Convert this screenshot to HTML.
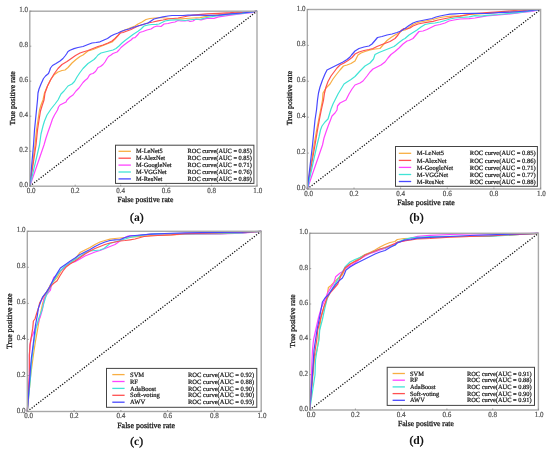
<!DOCTYPE html><html><head><meta charset="utf-8"><style>html,body{margin:0;padding:0;background:#fff}svg{display:block}</style></head><body>
<svg width="550" height="449" viewBox="0 0 550 449" font-family="'Liberation Serif','Times New Roman',serif" text-rendering="geometricPrecision">
<rect width="550" height="449" fill="#fff"/>
<g><polyline points="29.8,186.2 35.0,145.0 36.5,130.0 38.0,120.0 39.5,110.0 41.0,105.0 43.0,100.0 44.5,93.0 47.5,86.0 51.0,79.0 54.5,74.5 58.0,72.0 62.0,70.5 65.0,70.0 68.0,67.5 72.0,63.0 76.0,59.5 80.0,56.5 83.0,55.0 88.0,51.0 93.0,49.5 98.0,47.5 103.0,45.5 108.0,43.5 112.0,42.0 115.0,39.0 118.0,35.5 120.5,32.0 125.0,30.0 130.0,28.0 135.0,26.0 138.0,24.0 142.0,22.0 146.0,19.5 150.0,18.5 155.0,18.0 160.0,17.5 165.0,18.0 170.0,18.5 176.0,19.0 181.0,18.8 186.0,18.5 193.0,18.0 200.0,17.7 206.8,16.3 218.6,14.5 230.5,13.3 242.3,12.5 257.0,11.2" fill="none" stroke="#f8ae42" stroke-width="1.2" stroke-linejoin="round"/>
<polyline points="29.8,186.2 36.0,145.0 37.5,130.0 39.0,120.0 40.5,111.0 42.0,106.0 44.0,100.0 45.0,93.0 47.5,86.0 50.5,80.0 54.0,74.0 58.0,68.5 62.0,64.5 67.0,61.5 72.0,58.0 75.5,55.5 80.0,53.0 83.0,52.0 88.0,50.5 93.0,48.5 98.0,46.5 103.0,45.0 108.0,43.0 112.0,41.0 115.0,38.5 118.0,35.5 120.5,32.8 123.0,32.5 127.0,31.0 131.0,29.5 135.0,27.5 138.0,26.0 143.0,24.5 148.0,23.0 153.0,22.0 158.0,20.8 163.0,20.0 168.0,19.0 173.0,18.5 178.0,18.0 183.0,17.0 188.0,16.0 193.0,15.2 206.8,13.9 218.6,13.3 230.5,12.7 237.6,11.8 242.3,12.5 257.0,11.2" fill="none" stroke="#ff5050" stroke-width="1.2" stroke-linejoin="round"/>
<polyline points="29.8,186.2 44.0,145.0 46.0,138.0 48.0,132.0 50.5,125.0 52.5,119.0 54.5,115.0 57.5,110.0 58.5,107.0 60.0,105.0 63.0,103.5 66.0,102.0 67.0,100.0 70.0,97.0 73.0,95.0 76.0,91.0 79.0,88.0 83.0,82.5 85.0,80.5 87.5,78.5 89.5,75.0 91.0,74.0 93.0,73.5 95.5,71.5 98.0,67.5 100.5,66.5 103.0,64.5 105.0,62.0 107.0,58.5 108.5,56.5 111.0,54.9 113.0,53.5 117.0,52.0 119.0,50.0 121.0,47.5 124.0,45.0 128.0,42.0 131.0,40.0 133.0,38.0 135.0,37.6 138.0,34.5 139.5,32.5 143.0,31.5 147.0,30.0 151.0,29.0 154.0,27.0 157.0,26.0 161.0,26.5 164.0,24.0 168.0,23.5 172.0,22.5 175.0,22.0 178.0,20.5 181.0,21.0 185.0,21.0 188.0,20.5 190.0,21.5 193.0,21.0 196.0,19.0 201.0,19.8 206.8,18.4 214.0,18.4 218.6,16.9 230.5,15.1 242.3,13.7 251.7,12.7 257.0,11.2" fill="none" stroke="#ff44ff" stroke-width="1.2" stroke-linejoin="round"/>
<polyline points="29.8,186.2 39.5,145.0 41.0,134.0 43.0,126.0 44.5,121.0 47.0,115.0 51.0,109.0 55.0,104.0 58.0,100.0 61.0,94.0 64.0,91.0 68.0,86.0 72.0,84.0 74.5,81.5 77.0,77.0 80.0,72.5 83.0,68.5 85.0,66.5 88.0,63.5 91.0,61.5 94.0,59.5 96.0,57.5 98.0,55.0 101.0,53.0 105.0,52.0 109.0,51.0 113.0,50.0 116.0,48.5 119.0,46.0 122.0,43.0 125.0,40.5 129.0,37.5 133.0,34.5 138.0,31.3 141.0,29.0 144.0,26.0 148.0,25.0 152.0,24.5 156.0,24.3 159.0,24.0 162.0,22.5 165.0,21.0 170.0,20.2 176.0,19.8 180.0,20.0 185.0,20.5 188.0,20.0 193.0,19.5 197.0,19.3 201.0,19.2 206.8,17.5 218.6,15.7 230.5,14.5 242.3,13.3 257.0,11.2" fill="none" stroke="#40e4d6" stroke-width="1.2" stroke-linejoin="round"/>
<polyline points="29.8,186.2 33.5,145.0 34.5,130.0 35.5,120.0 36.5,110.0 37.5,100.0 38.0,93.0 39.0,89.0 41.0,84.0 43.5,78.5 45.5,76.0 48.5,73.5 49.5,71.0 50.5,68.0 52.5,65.5 56.0,63.5 60.0,61.0 63.0,58.5 65.0,56.0 66.5,54.0 68.0,51.5 70.0,50.2 74.0,48.6 78.0,47.5 83.0,46.5 88.0,44.5 92.0,43.0 96.0,42.5 100.0,41.8 104.0,40.0 107.5,38.5 111.0,36.0 114.0,34.5 118.0,33.0 121.0,31.5 125.0,30.0 129.0,29.0 133.0,27.5 138.0,26.0 143.0,24.5 148.0,23.0 151.0,21.0 154.0,19.0 158.0,18.0 163.0,16.8 168.0,16.0 172.0,15.5 178.0,15.5 183.0,15.5 188.0,15.2 193.0,15.0 200.0,15.1 206.8,15.3 218.6,15.1 230.5,13.9 242.3,13.0 257.0,11.2" fill="none" stroke="#4848ff" stroke-width="1.2" stroke-linejoin="round"/>
<line x1="29.8" y1="186.2" x2="257.0" y2="11.2" stroke="#111" stroke-width="1.3" stroke-dasharray="1.2 1.55"/>
<rect x="29.8" y="11.2" width="227.2" height="175.0" fill="none" stroke="#a8a8a8" stroke-width="1.4"/>
<line x1="29.8" y1="186.2" x2="29.8" y2="184.7" stroke="#888" stroke-width="0.8"/>
<line x1="29.8" y1="186.2" x2="31.3" y2="186.2" stroke="#888" stroke-width="0.8"/>
<text transform="translate(31.2 193.1) scale(1 1.1)" font-size="7.1" fill="#555" stroke="#555" stroke-width="0.2" text-anchor="middle">0.0</text>
<text transform="translate(28.1 187.2) scale(1 1.1)" font-size="7.1" fill="#555" stroke="#555" stroke-width="0.2" text-anchor="end">0.0</text>
<line x1="75.2" y1="186.2" x2="75.2" y2="184.7" stroke="#888" stroke-width="0.8"/>
<line x1="29.8" y1="151.2" x2="31.3" y2="151.2" stroke="#888" stroke-width="0.8"/>
<text transform="translate(75.2 193.1) scale(1 1.1)" font-size="7.1" fill="#555" stroke="#555" stroke-width="0.2" text-anchor="middle">0.2</text>
<text transform="translate(28.1 152.2) scale(1 1.1)" font-size="7.1" fill="#555" stroke="#555" stroke-width="0.2" text-anchor="end">0.2</text>
<line x1="120.7" y1="186.2" x2="120.7" y2="184.7" stroke="#888" stroke-width="0.8"/>
<line x1="29.8" y1="116.2" x2="31.3" y2="116.2" stroke="#888" stroke-width="0.8"/>
<text transform="translate(120.7 193.1) scale(1 1.1)" font-size="7.1" fill="#555" stroke="#555" stroke-width="0.2" text-anchor="middle">0.4</text>
<text transform="translate(28.1 117.2) scale(1 1.1)" font-size="7.1" fill="#555" stroke="#555" stroke-width="0.2" text-anchor="end">0.4</text>
<line x1="166.1" y1="186.2" x2="166.1" y2="184.7" stroke="#888" stroke-width="0.8"/>
<line x1="29.8" y1="81.2" x2="31.3" y2="81.2" stroke="#888" stroke-width="0.8"/>
<text transform="translate(166.1 193.1) scale(1 1.1)" font-size="7.1" fill="#555" stroke="#555" stroke-width="0.2" text-anchor="middle">0.6</text>
<text transform="translate(28.1 82.2) scale(1 1.1)" font-size="7.1" fill="#555" stroke="#555" stroke-width="0.2" text-anchor="end">0.6</text>
<line x1="211.6" y1="186.2" x2="211.6" y2="184.7" stroke="#888" stroke-width="0.8"/>
<line x1="29.8" y1="46.2" x2="31.3" y2="46.2" stroke="#888" stroke-width="0.8"/>
<text transform="translate(211.6 193.1) scale(1 1.1)" font-size="7.1" fill="#555" stroke="#555" stroke-width="0.2" text-anchor="middle">0.8</text>
<text transform="translate(28.1 47.2) scale(1 1.1)" font-size="7.1" fill="#555" stroke="#555" stroke-width="0.2" text-anchor="end">0.8</text>
<line x1="257.0" y1="186.2" x2="257.0" y2="184.7" stroke="#888" stroke-width="0.8"/>
<line x1="29.8" y1="11.2" x2="31.3" y2="11.2" stroke="#888" stroke-width="0.8"/>
<text transform="translate(257.8 193.1) scale(1 1.1)" font-size="7.1" fill="#555" stroke="#555" stroke-width="0.2" text-anchor="middle">1.0</text>
<text transform="translate(28.1 12.2) scale(1 1.1)" font-size="7.1" fill="#555" stroke="#555" stroke-width="0.2" text-anchor="end">1.0</text>
<rect x="115.5" y="145.2" width="138.4" height="38.2" fill="#fff" stroke="#444" stroke-width="1"/>
<line x1="118.5" y1="151.3" x2="130.9" y2="151.3" stroke="#f8ae42" stroke-width="1.3"/>
<text x="135.9" y="153.4" font-size="6.35" fill="#1a1a1a" stroke="#1a1a1a" stroke-width="0.22">M-LeNet5</text>
<text x="251.8" y="153.4" font-size="6.35" fill="#1a1a1a" stroke="#1a1a1a" stroke-width="0.22" text-anchor="end">ROC curve(AUC = 0.85)</text>
<line x1="118.5" y1="158.2" x2="130.9" y2="158.2" stroke="#ff5050" stroke-width="1.3"/>
<text x="135.9" y="160.3" font-size="6.35" fill="#1a1a1a" stroke="#1a1a1a" stroke-width="0.22">M-AlexNet</text>
<text x="251.8" y="160.3" font-size="6.35" fill="#1a1a1a" stroke="#1a1a1a" stroke-width="0.22" text-anchor="end">ROC curve(AUC = 0.85)</text>
<line x1="118.5" y1="165.1" x2="130.9" y2="165.1" stroke="#ff44ff" stroke-width="1.3"/>
<text x="135.9" y="167.2" font-size="6.35" fill="#1a1a1a" stroke="#1a1a1a" stroke-width="0.22">M-GoogleNet</text>
<text x="251.8" y="167.2" font-size="6.35" fill="#1a1a1a" stroke="#1a1a1a" stroke-width="0.22" text-anchor="end">ROC curve(AUC = 0.71)</text>
<line x1="118.5" y1="172.0" x2="130.9" y2="172.0" stroke="#40e4d6" stroke-width="1.3"/>
<text x="135.9" y="174.1" font-size="6.35" fill="#1a1a1a" stroke="#1a1a1a" stroke-width="0.22">M-VGGNet</text>
<text x="251.8" y="174.1" font-size="6.35" fill="#1a1a1a" stroke="#1a1a1a" stroke-width="0.22" text-anchor="end">ROC curve(AUC = 0.76)</text>
<line x1="118.5" y1="178.9" x2="130.9" y2="178.9" stroke="#4848ff" stroke-width="1.3"/>
<text x="135.9" y="181.0" font-size="6.35" fill="#1a1a1a" stroke="#1a1a1a" stroke-width="0.22">M-ResNet</text>
<text x="251.8" y="181.0" font-size="6.35" fill="#1a1a1a" stroke="#1a1a1a" stroke-width="0.22" text-anchor="end">ROC curve(AUC = 0.89)</text>
<text x="145.4" y="201.9" font-size="7.7" fill="#1a1a1a" stroke="#1a1a1a" stroke-width="0.3" text-anchor="middle">False positive rate</text>
<text transform="translate(15.1 98.3) rotate(-90)" x="0" y="0" font-size="7.7" fill="#1a1a1a" stroke="#1a1a1a" stroke-width="0.3" text-anchor="middle">True positive rate</text>
<text x="136.8" y="220.8" font-size="11.6" fill="#111" text-anchor="middle"><tspan stroke="#111" stroke-width="0.4">(</tspan><tspan font-weight="bold">a</tspan><tspan stroke="#111" stroke-width="0.4">)</tspan></text></g>
<g><polyline points="307.3,189.0 314.0,145.0 317.0,128.0 319.0,118.0 321.0,108.0 322.5,100.0 323.0,93.0 326.0,88.0 330.0,84.0 333.0,79.0 336.0,75.0 340.0,70.0 343.5,66.0 347.0,65.0 351.0,63.5 355.0,61.0 358.0,55.0 361.0,53.0 365.0,51.5 370.0,50.0 375.0,49.0 380.0,48.5 383.0,45.0 387.0,40.5 391.0,37.5 395.0,35.0 399.0,33.0 402.0,30.5 405.0,30.0 409.0,27.5 413.0,24.5 418.0,22.5 423.0,21.5 428.0,20.5 433.0,19.5 438.0,18.0 443.0,17.0 447.0,16.5 452.0,16.2 460.0,15.8 469.0,14.5 475.0,14.2 486.8,13.3 498.6,12.3 510.5,11.9 522.0,10.9 540.6,9.5" fill="none" stroke="#f8ae42" stroke-width="1.2" stroke-linejoin="round"/>
<polyline points="307.3,189.0 315.0,145.0 317.5,130.0 319.5,119.0 321.5,109.0 323.5,100.0 324.5,93.0 326.0,87.0 328.0,81.5 331.0,76.0 334.0,72.0 337.0,68.0 340.0,65.0 344.0,63.0 348.0,60.5 352.0,57.5 355.0,54.0 359.0,52.0 364.0,50.5 369.0,49.5 373.0,48.5 377.0,46.5 382.0,44.5 386.0,43.0 390.0,41.5 395.0,38.5 398.0,35.0 401.0,30.5 404.0,28.5 407.0,29.0 410.0,28.0 413.0,26.0 418.0,24.0 423.0,23.0 428.0,22.2 433.0,21.3 438.0,20.0 443.0,19.0 448.0,18.0 453.0,17.0 460.0,16.2 469.0,14.5 475.0,13.5 486.8,12.7 498.6,11.9 510.5,10.9 521.0,10.0 524.6,10.7 540.6,9.5" fill="none" stroke="#ff5050" stroke-width="1.2" stroke-linejoin="round"/>
<polyline points="307.3,189.0 322.5,145.0 324.0,138.0 326.0,132.0 328.5,125.0 330.5,120.0 332.0,116.0 335.0,113.0 337.0,110.0 337.5,106.0 340.0,103.0 343.0,101.5 346.0,100.0 349.0,94.0 352.0,89.0 355.0,85.0 360.0,83.0 363.0,81.0 367.0,76.0 370.0,72.0 373.0,69.0 377.0,67.0 381.0,65.0 385.0,62.0 388.0,58.0 391.0,54.5 395.0,51.5 399.0,48.0 403.0,44.0 407.0,41.0 409.0,40.5 413.0,38.5 416.0,35.0 419.0,31.5 423.0,31.0 427.0,29.5 431.0,27.5 435.0,25.5 440.0,24.5 445.0,23.0 449.0,21.0 454.0,20.0 460.0,19.0 469.0,18.6 475.0,18.0 481.0,16.8 486.8,15.9 498.6,15.0 510.5,13.9 522.0,12.3 531.7,11.5 540.6,9.5" fill="none" stroke="#ff44ff" stroke-width="1.2" stroke-linejoin="round"/>
<polyline points="307.3,189.0 317.0,145.0 319.0,137.0 320.5,130.0 322.0,126.0 325.0,122.0 328.0,119.0 329.5,114.0 331.0,109.0 333.0,104.0 335.0,100.0 338.0,94.0 341.0,89.0 344.0,84.0 347.0,82.0 351.0,79.5 355.0,76.5 360.0,71.0 365.0,66.0 370.0,63.0 373.5,59.0 375.0,54.5 379.0,52.5 384.0,50.5 389.0,48.5 394.0,46.5 396.0,45.0 399.0,42.5 403.0,39.5 405.0,38.5 409.0,35.0 413.0,32.5 417.0,30.0 421.0,27.0 425.0,24.5 430.0,23.5 435.0,23.0 440.0,22.0 445.0,20.5 450.0,19.0 455.0,18.0 460.0,17.5 469.0,16.8 475.0,15.6 481.0,16.2 486.8,15.4 498.6,14.5 510.5,13.3 522.0,12.1 540.6,9.5" fill="none" stroke="#40e4d6" stroke-width="1.2" stroke-linejoin="round"/>
<polyline points="307.3,189.0 312.5,145.0 314.0,130.0 315.0,120.0 316.5,110.0 317.5,100.0 318.5,93.0 320.0,87.0 322.5,80.0 325.0,74.0 327.0,70.0 331.0,68.0 335.0,66.0 339.0,64.0 343.0,62.0 347.0,59.5 350.0,57.0 351.5,55.0 355.0,51.0 359.0,48.5 364.0,47.0 369.0,46.0 372.0,44.0 375.0,40.5 377.5,37.5 382.0,36.5 387.0,35.0 392.0,34.0 397.0,32.5 401.0,31.0 405.0,28.5 409.0,25.5 413.0,23.0 417.0,21.5 422.0,20.5 427.0,19.5 432.0,18.5 436.0,17.0 440.0,16.0 445.0,15.0 450.0,14.2 455.0,13.8 460.0,13.5 475.0,13.3 486.8,13.5 498.6,12.7 510.5,12.1 520.0,11.5 528.0,10.9 540.6,9.5" fill="none" stroke="#4848ff" stroke-width="1.2" stroke-linejoin="round"/>
<line x1="307.3" y1="189.0" x2="540.6" y2="9.5" stroke="#111" stroke-width="1.3" stroke-dasharray="1.2 1.55"/>
<rect x="307.3" y="9.5" width="233.3" height="179.5" fill="none" stroke="#a8a8a8" stroke-width="1.4"/>
<line x1="307.3" y1="189.0" x2="307.3" y2="187.5" stroke="#888" stroke-width="0.8"/>
<line x1="307.3" y1="189.0" x2="308.8" y2="189.0" stroke="#888" stroke-width="0.8"/>
<text transform="translate(308.7 195.9) scale(1 1.1)" font-size="7.1" fill="#555" stroke="#555" stroke-width="0.2" text-anchor="middle">0.0</text>
<text transform="translate(305.6 190.0) scale(1 1.1)" font-size="7.1" fill="#555" stroke="#555" stroke-width="0.2" text-anchor="end">0.0</text>
<line x1="354.0" y1="189.0" x2="354.0" y2="187.5" stroke="#888" stroke-width="0.8"/>
<line x1="307.3" y1="153.1" x2="308.8" y2="153.1" stroke="#888" stroke-width="0.8"/>
<text transform="translate(354.0 195.9) scale(1 1.1)" font-size="7.1" fill="#555" stroke="#555" stroke-width="0.2" text-anchor="middle">0.2</text>
<text transform="translate(305.6 154.1) scale(1 1.1)" font-size="7.1" fill="#555" stroke="#555" stroke-width="0.2" text-anchor="end">0.2</text>
<line x1="400.6" y1="189.0" x2="400.6" y2="187.5" stroke="#888" stroke-width="0.8"/>
<line x1="307.3" y1="117.2" x2="308.8" y2="117.2" stroke="#888" stroke-width="0.8"/>
<text transform="translate(400.6 195.9) scale(1 1.1)" font-size="7.1" fill="#555" stroke="#555" stroke-width="0.2" text-anchor="middle">0.4</text>
<text transform="translate(305.6 118.2) scale(1 1.1)" font-size="7.1" fill="#555" stroke="#555" stroke-width="0.2" text-anchor="end">0.4</text>
<line x1="447.3" y1="189.0" x2="447.3" y2="187.5" stroke="#888" stroke-width="0.8"/>
<line x1="307.3" y1="81.3" x2="308.8" y2="81.3" stroke="#888" stroke-width="0.8"/>
<text transform="translate(447.3 195.9) scale(1 1.1)" font-size="7.1" fill="#555" stroke="#555" stroke-width="0.2" text-anchor="middle">0.6</text>
<text transform="translate(305.6 82.3) scale(1 1.1)" font-size="7.1" fill="#555" stroke="#555" stroke-width="0.2" text-anchor="end">0.6</text>
<line x1="493.9" y1="189.0" x2="493.9" y2="187.5" stroke="#888" stroke-width="0.8"/>
<line x1="307.3" y1="45.4" x2="308.8" y2="45.4" stroke="#888" stroke-width="0.8"/>
<text transform="translate(493.9 195.9) scale(1 1.1)" font-size="7.1" fill="#555" stroke="#555" stroke-width="0.2" text-anchor="middle">0.8</text>
<text transform="translate(305.6 46.4) scale(1 1.1)" font-size="7.1" fill="#555" stroke="#555" stroke-width="0.2" text-anchor="end">0.8</text>
<line x1="540.6" y1="189.0" x2="540.6" y2="187.5" stroke="#888" stroke-width="0.8"/>
<line x1="307.3" y1="9.5" x2="308.8" y2="9.5" stroke="#888" stroke-width="0.8"/>
<text transform="translate(541.4 195.9) scale(1 1.1)" font-size="7.1" fill="#555" stroke="#555" stroke-width="0.2" text-anchor="middle">1.0</text>
<text transform="translate(305.6 10.5) scale(1 1.1)" font-size="7.1" fill="#555" stroke="#555" stroke-width="0.2" text-anchor="end">1.0</text>
<rect x="395.5" y="146.5" width="141.9" height="39.8" fill="#fff" stroke="#444" stroke-width="1"/>
<line x1="398.8" y1="153.3" x2="411.2" y2="153.3" stroke="#f8ae42" stroke-width="1.3"/>
<text x="416.7" y="155.4" font-size="6.5" fill="#1a1a1a" stroke="#1a1a1a" stroke-width="0.22">M-LeNet5</text>
<text x="535.6" y="155.4" font-size="6.5" fill="#1a1a1a" stroke="#1a1a1a" stroke-width="0.22" text-anchor="end">ROC curve(AUC = 0.85)</text>
<line x1="398.8" y1="160.4" x2="411.2" y2="160.4" stroke="#ff5050" stroke-width="1.3"/>
<text x="416.7" y="162.5" font-size="6.5" fill="#1a1a1a" stroke="#1a1a1a" stroke-width="0.22">M-AlexNet</text>
<text x="535.6" y="162.5" font-size="6.5" fill="#1a1a1a" stroke="#1a1a1a" stroke-width="0.22" text-anchor="end">ROC curve(AUC = 0.86)</text>
<line x1="398.8" y1="167.4" x2="411.2" y2="167.4" stroke="#ff44ff" stroke-width="1.3"/>
<text x="416.7" y="169.5" font-size="6.5" fill="#1a1a1a" stroke="#1a1a1a" stroke-width="0.22">M-GoogleNet</text>
<text x="535.6" y="169.5" font-size="6.5" fill="#1a1a1a" stroke="#1a1a1a" stroke-width="0.22" text-anchor="end">ROC curve(AUC = 0.71)</text>
<line x1="398.8" y1="174.5" x2="411.2" y2="174.5" stroke="#40e4d6" stroke-width="1.3"/>
<text x="416.7" y="176.6" font-size="6.5" fill="#1a1a1a" stroke="#1a1a1a" stroke-width="0.22">M-VGGNet</text>
<text x="535.6" y="176.6" font-size="6.5" fill="#1a1a1a" stroke="#1a1a1a" stroke-width="0.22" text-anchor="end">ROC curve(AUC = 0.77)</text>
<line x1="398.8" y1="181.5" x2="411.2" y2="181.5" stroke="#4848ff" stroke-width="1.3"/>
<text x="416.7" y="183.6" font-size="6.5" fill="#1a1a1a" stroke="#1a1a1a" stroke-width="0.22">M-ResNet</text>
<text x="535.6" y="183.6" font-size="6.5" fill="#1a1a1a" stroke="#1a1a1a" stroke-width="0.22" text-anchor="end">ROC curve(AUC = 0.88)</text>
<text x="425.9" y="204.8" font-size="7.92" fill="#1a1a1a" stroke="#1a1a1a" stroke-width="0.3" text-anchor="middle">False positive rate</text>
<text transform="translate(292.3 98.1) rotate(-90)" x="0" y="0" font-size="7.75" fill="#1a1a1a" stroke="#1a1a1a" stroke-width="0.3" text-anchor="middle">True positive rate</text>
<text x="416.5" y="221.3" font-size="11.6" fill="#111" text-anchor="middle"><tspan stroke="#111" stroke-width="0.4">(</tspan><tspan font-weight="bold">b</tspan><tspan stroke="#111" stroke-width="0.4">)</tspan></text></g>
<g><polyline points="27.3,411.5 30.7,375.0 31.6,368.5 33.4,355.0 35.4,341.7 37.5,330.0 39.0,321.0 40.6,313.0 42.5,304.0 44.0,299.0 47.1,292.1 50.4,284.7 53.1,282.0 57.1,277.4 61.1,270.7 65.1,266.7 70.0,263.3 75.0,259.0 80.0,252.5 85.0,250.0 90.0,247.5 95.0,244.5 100.0,242.0 105.0,240.5 110.0,239.2 115.0,238.5 120.0,238.0 125.0,237.5 130.0,237.0 135.0,236.8 151.0,235.5 164.6,235.1 185.0,234.1 220.0,233.6 242.0,232.8 261.2,231.3" fill="none" stroke="#f8ae42" stroke-width="1.2" stroke-linejoin="round"/>
<polyline points="27.3,411.5 29.4,375.0 29.4,355.0 30.0,345.7 31.4,337.7 34.7,329.7 38.0,323.0 40.5,316.0 42.5,309.0 43.5,303.0 44.0,299.0 47.1,294.1 50.4,290.1 51.7,284.0 53.7,277.4 57.1,274.7 60.4,270.7 65.1,266.7 70.0,263.3 75.0,261.8 80.0,259.0 85.0,256.0 90.0,254.0 95.0,252.0 100.0,250.5 105.0,248.5 110.0,246.5 115.0,244.5 120.0,241.0 124.0,238.0 128.0,236.0 132.0,235.5 137.3,235.5 151.0,234.1 164.6,233.9 185.0,234.0 220.0,234.0 242.0,233.2 261.2,231.3" fill="none" stroke="#ff44ff" stroke-width="1.2" stroke-linejoin="round"/>
<polyline points="27.3,411.5 30.7,375.0 31.4,363.1 32.7,352.4 34.0,341.7 36.0,328.4 38.5,319.0 41.7,310.8 44.4,301.4 46.4,294.8 49.1,289.4 52.4,282.7 55.7,277.4 59.1,272.0 63.1,268.0 67.8,264.0 73.6,260.5 80.0,256.5 85.0,253.0 90.0,251.0 95.0,250.5 100.0,250.0 104.0,248.5 107.0,246.0 110.0,243.5 115.0,242.0 120.0,240.5 125.0,239.0 130.0,237.5 135.0,236.5 144.0,234.8 157.7,233.7 185.0,234.0 220.0,233.6 242.0,233.0 261.2,231.3" fill="none" stroke="#40e4d6" stroke-width="1.2" stroke-linejoin="round"/>
<polyline points="27.3,411.5 29.4,375.0 29.4,355.0 30.0,344.4 31.4,336.4 32.7,328.4 33.4,321.0 35.0,319.0 36.5,314.0 38.5,308.0 39.7,302.8 43.7,296.1 47.7,290.7 50.4,286.7 53.7,283.4 57.1,280.7 59.8,276.0 63.1,270.7 66.4,266.7 70.0,264.0 75.0,261.0 80.0,257.5 85.0,254.0 90.0,251.0 95.0,248.5 100.0,246.5 105.0,244.5 110.0,243.0 115.0,242.0 120.0,241.0 125.0,240.5 130.0,239.8 135.0,239.0 144.0,236.5 157.7,235.5 171.4,234.8 185.0,233.7 220.0,233.0 242.0,232.5 261.2,231.3" fill="none" stroke="#ff5050" stroke-width="1.2" stroke-linejoin="round"/>
<polyline points="27.3,411.5 30.0,375.0 30.7,365.8 31.4,357.8 32.7,348.4 34.0,337.7 35.4,325.7 37.4,315.0 38.4,308.1 42.4,297.4 46.4,292.1 49.7,286.7 53.1,280.0 57.1,273.4 60.4,268.0 65.1,264.7 70.0,261.3 75.0,258.0 80.0,254.5 85.0,252.0 90.0,249.5 95.0,246.5 100.0,244.0 105.0,242.0 110.0,240.5 115.0,239.8 120.0,239.5 125.0,237.5 130.0,236.0 135.0,235.5 151.0,234.1 164.6,233.5 185.0,232.8 220.0,232.4 242.0,232.1 261.2,231.3" fill="none" stroke="#4848ff" stroke-width="1.2" stroke-linejoin="round"/>
<line x1="27.3" y1="411.5" x2="261.2" y2="231.3" stroke="#111" stroke-width="1.3" stroke-dasharray="1.2 1.55"/>
<rect x="27.3" y="231.3" width="233.9" height="180.2" fill="none" stroke="#a8a8a8" stroke-width="1.4"/>
<line x1="27.3" y1="411.5" x2="27.3" y2="410.0" stroke="#888" stroke-width="0.8"/>
<line x1="27.3" y1="411.5" x2="28.8" y2="411.5" stroke="#888" stroke-width="0.8"/>
<text transform="translate(28.7 418.4) scale(1 1.1)" font-size="7.1" fill="#555" stroke="#555" stroke-width="0.2" text-anchor="middle">0.0</text>
<text transform="translate(25.6 412.5) scale(1 1.1)" font-size="7.1" fill="#555" stroke="#555" stroke-width="0.2" text-anchor="end">0.0</text>
<line x1="74.1" y1="411.5" x2="74.1" y2="410.0" stroke="#888" stroke-width="0.8"/>
<line x1="27.3" y1="375.5" x2="28.8" y2="375.5" stroke="#888" stroke-width="0.8"/>
<text transform="translate(74.1 418.4) scale(1 1.1)" font-size="7.1" fill="#555" stroke="#555" stroke-width="0.2" text-anchor="middle">0.2</text>
<text transform="translate(25.6 376.5) scale(1 1.1)" font-size="7.1" fill="#555" stroke="#555" stroke-width="0.2" text-anchor="end">0.2</text>
<line x1="120.9" y1="411.5" x2="120.9" y2="410.0" stroke="#888" stroke-width="0.8"/>
<line x1="27.3" y1="339.4" x2="28.8" y2="339.4" stroke="#888" stroke-width="0.8"/>
<text transform="translate(120.9 418.4) scale(1 1.1)" font-size="7.1" fill="#555" stroke="#555" stroke-width="0.2" text-anchor="middle">0.4</text>
<text transform="translate(25.6 340.4) scale(1 1.1)" font-size="7.1" fill="#555" stroke="#555" stroke-width="0.2" text-anchor="end">0.4</text>
<line x1="167.6" y1="411.5" x2="167.6" y2="410.0" stroke="#888" stroke-width="0.8"/>
<line x1="27.3" y1="303.4" x2="28.8" y2="303.4" stroke="#888" stroke-width="0.8"/>
<text transform="translate(167.6 418.4) scale(1 1.1)" font-size="7.1" fill="#555" stroke="#555" stroke-width="0.2" text-anchor="middle">0.6</text>
<text transform="translate(25.6 304.4) scale(1 1.1)" font-size="7.1" fill="#555" stroke="#555" stroke-width="0.2" text-anchor="end">0.6</text>
<line x1="214.4" y1="411.5" x2="214.4" y2="410.0" stroke="#888" stroke-width="0.8"/>
<line x1="27.3" y1="267.3" x2="28.8" y2="267.3" stroke="#888" stroke-width="0.8"/>
<text transform="translate(214.4 418.4) scale(1 1.1)" font-size="7.1" fill="#555" stroke="#555" stroke-width="0.2" text-anchor="middle">0.8</text>
<text transform="translate(25.6 268.3) scale(1 1.1)" font-size="7.1" fill="#555" stroke="#555" stroke-width="0.2" text-anchor="end">0.8</text>
<line x1="261.2" y1="411.5" x2="261.2" y2="410.0" stroke="#888" stroke-width="0.8"/>
<line x1="27.3" y1="231.3" x2="28.8" y2="231.3" stroke="#888" stroke-width="0.8"/>
<text transform="translate(262.0 418.4) scale(1 1.1)" font-size="7.1" fill="#555" stroke="#555" stroke-width="0.2" text-anchor="middle">1.0</text>
<text transform="translate(25.6 232.3) scale(1 1.1)" font-size="7.1" fill="#555" stroke="#555" stroke-width="0.2" text-anchor="end">1.0</text>
<rect x="106.5" y="368.4" width="150.3" height="38.9" fill="#fff" stroke="#444" stroke-width="1"/>
<line x1="112.3" y1="374.6" x2="124.6" y2="374.6" stroke="#f8ae42" stroke-width="1.3"/>
<text x="130.0" y="376.7" font-size="6.55" fill="#1a1a1a" stroke="#1a1a1a" stroke-width="0.22">SVM</text>
<text x="254.2" y="376.7" font-size="6.55" fill="#1a1a1a" stroke="#1a1a1a" stroke-width="0.22" text-anchor="end">ROC curve(AUC = 0.92)</text>
<line x1="112.3" y1="381.5" x2="124.6" y2="381.5" stroke="#ff44ff" stroke-width="1.3"/>
<text x="130.0" y="383.6" font-size="6.55" fill="#1a1a1a" stroke="#1a1a1a" stroke-width="0.22">RF</text>
<text x="254.2" y="383.6" font-size="6.55" fill="#1a1a1a" stroke="#1a1a1a" stroke-width="0.22" text-anchor="end">ROC curve(AUC = 0.88)</text>
<line x1="112.3" y1="388.4" x2="124.6" y2="388.4" stroke="#40e4d6" stroke-width="1.3"/>
<text x="130.0" y="390.5" font-size="6.55" fill="#1a1a1a" stroke="#1a1a1a" stroke-width="0.22">AdaBoost</text>
<text x="254.2" y="390.5" font-size="6.55" fill="#1a1a1a" stroke="#1a1a1a" stroke-width="0.22" text-anchor="end">ROC curve(AUC = 0.90)</text>
<line x1="112.3" y1="395.3" x2="124.6" y2="395.3" stroke="#ff5050" stroke-width="1.3"/>
<text x="130.0" y="397.4" font-size="6.55" fill="#1a1a1a" stroke="#1a1a1a" stroke-width="0.22">Soft-voting</text>
<text x="254.2" y="397.4" font-size="6.55" fill="#1a1a1a" stroke="#1a1a1a" stroke-width="0.22" text-anchor="end">ROC curve(AUC = 0.90)</text>
<line x1="112.3" y1="402.2" x2="124.6" y2="402.2" stroke="#4848ff" stroke-width="1.3"/>
<text x="130.0" y="404.3" font-size="6.55" fill="#1a1a1a" stroke="#1a1a1a" stroke-width="0.22">AWV</text>
<text x="254.2" y="404.3" font-size="6.55" fill="#1a1a1a" stroke="#1a1a1a" stroke-width="0.22" text-anchor="end">ROC curve(AUC = 0.93)</text>
<text x="146.1" y="427.8" font-size="7.95" fill="#1a1a1a" stroke="#1a1a1a" stroke-width="0.3" text-anchor="middle">False positive rate</text>
<text transform="translate(12.0 321.3) rotate(-90)" x="0" y="0" font-size="7.9" fill="#1a1a1a" stroke="#1a1a1a" stroke-width="0.3" text-anchor="middle">True positive rate</text>
<text x="136.6" y="444.6" font-size="11.6" fill="#111" text-anchor="middle"><tspan stroke="#111" stroke-width="0.4">(</tspan><tspan font-weight="bold">c</tspan><tspan stroke="#111" stroke-width="0.4">)</tspan></text></g>
<g><polyline points="309.7,410.0 313.0,375.0 314.5,358.0 317.0,350.0 318.5,340.0 319.5,330.0 321.0,317.0 324.4,306.0 326.4,300.7 328.4,287.4 331.0,285.4 334.4,282.0 338.4,278.0 342.4,274.7 345.0,269.0 350.0,264.5 355.0,261.0 360.0,257.5 365.0,254.5 370.0,252.5 375.0,250.0 380.0,247.0 385.0,244.5 390.0,242.5 394.9,241.5 397.3,239.5 404.0,238.5 411.0,238.3 417.0,238.5 430.0,237.7 450.0,236.7 470.0,236.5 490.0,235.8 505.0,235.0 520.0,234.3 538.4,233.3" fill="none" stroke="#f8ae42" stroke-width="1.2" stroke-linejoin="round"/>
<polyline points="309.7,410.0 311.5,375.0 312.0,360.0 312.5,350.0 313.5,340.0 315.7,330.0 318.4,318.0 321.0,308.8 325.0,299.4 327.7,292.7 331.0,287.4 333.7,283.4 335.7,276.7 339.8,273.3 343.8,270.7 345.0,268.0 350.0,266.0 355.0,263.0 360.0,259.0 365.0,256.0 370.0,253.5 375.0,252.0 380.0,250.0 385.0,248.5 390.0,246.5 394.9,244.0 397.3,242.3 404.0,240.9 411.0,238.2 417.7,236.3 430.0,235.4 450.0,234.5 470.0,234.0 490.0,233.9 515.0,233.6 538.4,233.3" fill="none" stroke="#ff44ff" stroke-width="1.2" stroke-linejoin="round"/>
<polyline points="309.7,410.0 315.0,375.0 315.5,360.0 317.0,350.0 319.0,340.0 319.7,330.0 322.4,319.5 325.0,307.4 327.0,299.4 329.7,292.7 333.0,287.4 337.0,280.7 341.0,274.7 345.0,267.0 350.0,262.0 355.0,259.5 360.0,257.5 365.0,255.0 370.0,253.0 375.0,251.0 380.0,249.0 385.0,248.0 390.0,246.0 394.9,245.5 397.3,242.3 404.0,239.5 411.0,237.8 417.0,237.4 430.0,236.7 450.0,236.3 470.0,236.5 490.0,236.3 505.0,235.5 520.0,234.5 538.4,233.3" fill="none" stroke="#40e4d6" stroke-width="1.2" stroke-linejoin="round"/>
<polyline points="309.7,410.0 312.5,375.0 314.0,358.0 315.5,348.0 317.0,338.0 317.7,330.0 320.4,319.5 323.7,307.4 327.0,298.0 330.4,292.7 334.4,288.0 337.8,284.0 339.0,280.7 341.0,275.3 345.0,268.0 350.0,264.0 355.0,261.5 360.0,259.0 365.0,255.0 370.0,253.0 375.0,251.0 380.0,249.0 385.0,247.5 390.0,245.5 394.9,243.5 397.3,242.3 404.0,240.9 411.0,240.0 417.0,238.8 430.0,238.5 450.0,237.2 470.0,236.5 490.0,236.0 505.0,235.0 520.0,234.3 538.4,233.3" fill="none" stroke="#ff5050" stroke-width="1.2" stroke-linejoin="round"/>
<polyline points="309.7,410.0 312.5,375.0 313.5,358.0 314.0,350.0 315.5,340.0 317.0,330.0 319.7,316.8 322.4,302.0 325.0,298.0 328.4,294.7 331.7,290.0 335.0,285.4 338.4,281.4 342.4,278.0 344.0,275.0 346.0,270.0 350.0,267.0 355.0,264.0 360.0,261.5 365.0,259.0 370.0,256.5 375.0,254.0 380.0,252.0 385.0,250.5 390.0,247.5 394.9,245.0 397.3,243.0 404.0,240.2 411.0,239.5 417.0,238.1 430.0,237.4 450.0,236.5 470.0,235.5 490.0,234.8 510.0,234.2 538.4,233.3" fill="none" stroke="#4848ff" stroke-width="1.2" stroke-linejoin="round"/>
<line x1="309.7" y1="410.0" x2="538.4" y2="233.3" stroke="#111" stroke-width="1.3" stroke-dasharray="1.2 1.55"/>
<rect x="309.7" y="233.3" width="228.7" height="176.7" fill="none" stroke="#a8a8a8" stroke-width="1.4"/>
<line x1="309.7" y1="410.0" x2="309.7" y2="408.5" stroke="#888" stroke-width="0.8"/>
<line x1="309.7" y1="410.0" x2="311.2" y2="410.0" stroke="#888" stroke-width="0.8"/>
<text transform="translate(311.1 416.9) scale(1 1.1)" font-size="7.1" fill="#555" stroke="#555" stroke-width="0.2" text-anchor="middle">0.0</text>
<text transform="translate(308.0 411.0) scale(1 1.1)" font-size="7.1" fill="#555" stroke="#555" stroke-width="0.2" text-anchor="end">0.0</text>
<line x1="355.4" y1="410.0" x2="355.4" y2="408.5" stroke="#888" stroke-width="0.8"/>
<line x1="309.7" y1="374.7" x2="311.2" y2="374.7" stroke="#888" stroke-width="0.8"/>
<text transform="translate(355.4 416.9) scale(1 1.1)" font-size="7.1" fill="#555" stroke="#555" stroke-width="0.2" text-anchor="middle">0.2</text>
<text transform="translate(308.0 375.7) scale(1 1.1)" font-size="7.1" fill="#555" stroke="#555" stroke-width="0.2" text-anchor="end">0.2</text>
<line x1="401.2" y1="410.0" x2="401.2" y2="408.5" stroke="#888" stroke-width="0.8"/>
<line x1="309.7" y1="339.3" x2="311.2" y2="339.3" stroke="#888" stroke-width="0.8"/>
<text transform="translate(401.2 416.9) scale(1 1.1)" font-size="7.1" fill="#555" stroke="#555" stroke-width="0.2" text-anchor="middle">0.4</text>
<text transform="translate(308.0 340.3) scale(1 1.1)" font-size="7.1" fill="#555" stroke="#555" stroke-width="0.2" text-anchor="end">0.4</text>
<line x1="446.9" y1="410.0" x2="446.9" y2="408.5" stroke="#888" stroke-width="0.8"/>
<line x1="309.7" y1="304.0" x2="311.2" y2="304.0" stroke="#888" stroke-width="0.8"/>
<text transform="translate(446.9 416.9) scale(1 1.1)" font-size="7.1" fill="#555" stroke="#555" stroke-width="0.2" text-anchor="middle">0.6</text>
<text transform="translate(308.0 305.0) scale(1 1.1)" font-size="7.1" fill="#555" stroke="#555" stroke-width="0.2" text-anchor="end">0.6</text>
<line x1="492.7" y1="410.0" x2="492.7" y2="408.5" stroke="#888" stroke-width="0.8"/>
<line x1="309.7" y1="268.6" x2="311.2" y2="268.6" stroke="#888" stroke-width="0.8"/>
<text transform="translate(492.7 416.9) scale(1 1.1)" font-size="7.1" fill="#555" stroke="#555" stroke-width="0.2" text-anchor="middle">0.8</text>
<text transform="translate(308.0 269.6) scale(1 1.1)" font-size="7.1" fill="#555" stroke="#555" stroke-width="0.2" text-anchor="end">0.8</text>
<line x1="538.4" y1="410.0" x2="538.4" y2="408.5" stroke="#888" stroke-width="0.8"/>
<line x1="309.7" y1="233.3" x2="311.2" y2="233.3" stroke="#888" stroke-width="0.8"/>
<text transform="translate(539.2 416.9) scale(1 1.1)" font-size="7.1" fill="#555" stroke="#555" stroke-width="0.2" text-anchor="middle">1.0</text>
<text transform="translate(308.0 234.3) scale(1 1.1)" font-size="7.1" fill="#555" stroke="#555" stroke-width="0.2" text-anchor="end">1.0</text>
<rect x="387.2" y="367.3" width="147.3" height="38.1" fill="#fff" stroke="#444" stroke-width="1"/>
<line x1="392.6" y1="373.5" x2="404.9" y2="373.5" stroke="#f8ae42" stroke-width="1.3"/>
<text x="410.0" y="375.6" font-size="6.4" fill="#1a1a1a" stroke="#1a1a1a" stroke-width="0.22">SVM</text>
<text x="531.6" y="375.6" font-size="6.4" fill="#1a1a1a" stroke="#1a1a1a" stroke-width="0.22" text-anchor="end">ROC curve(AUC = 0.91)</text>
<line x1="392.6" y1="380.2" x2="404.9" y2="380.2" stroke="#ff44ff" stroke-width="1.3"/>
<text x="410.0" y="382.3" font-size="6.4" fill="#1a1a1a" stroke="#1a1a1a" stroke-width="0.22">RF</text>
<text x="531.6" y="382.3" font-size="6.4" fill="#1a1a1a" stroke="#1a1a1a" stroke-width="0.22" text-anchor="end">ROC curve(AUC = 0.88)</text>
<line x1="392.6" y1="386.9" x2="404.9" y2="386.9" stroke="#40e4d6" stroke-width="1.3"/>
<text x="410.0" y="389.0" font-size="6.4" fill="#1a1a1a" stroke="#1a1a1a" stroke-width="0.22">AdaBoost</text>
<text x="531.6" y="389.0" font-size="6.4" fill="#1a1a1a" stroke="#1a1a1a" stroke-width="0.22" text-anchor="end">ROC curve(AUC = 0.89)</text>
<line x1="392.6" y1="393.6" x2="404.9" y2="393.6" stroke="#ff5050" stroke-width="1.3"/>
<text x="410.0" y="395.7" font-size="6.4" fill="#1a1a1a" stroke="#1a1a1a" stroke-width="0.22">Soft-voting</text>
<text x="531.6" y="395.7" font-size="6.4" fill="#1a1a1a" stroke="#1a1a1a" stroke-width="0.22" text-anchor="end">ROC curve(AUC = 0.90)</text>
<line x1="392.6" y1="400.3" x2="404.9" y2="400.3" stroke="#4848ff" stroke-width="1.3"/>
<text x="410.0" y="402.4" font-size="6.4" fill="#1a1a1a" stroke="#1a1a1a" stroke-width="0.22">AWV</text>
<text x="531.6" y="402.4" font-size="6.4" fill="#1a1a1a" stroke="#1a1a1a" stroke-width="0.22" text-anchor="end">ROC curve(AUC = 0.91)</text>
<text x="425.9" y="425.5" font-size="7.7" fill="#1a1a1a" stroke="#1a1a1a" stroke-width="0.3" text-anchor="middle">False positive rate</text>
<text transform="translate(295.1 321.0) rotate(-90)" x="0" y="0" font-size="7.6" fill="#1a1a1a" stroke="#1a1a1a" stroke-width="0.3" text-anchor="middle">True positive rate</text>
<text x="416.6" y="444.0" font-size="11.6" fill="#111" text-anchor="middle"><tspan stroke="#111" stroke-width="0.4">(</tspan><tspan font-weight="bold">d</tspan><tspan stroke="#111" stroke-width="0.4">)</tspan></text></g>
</svg></body></html>
